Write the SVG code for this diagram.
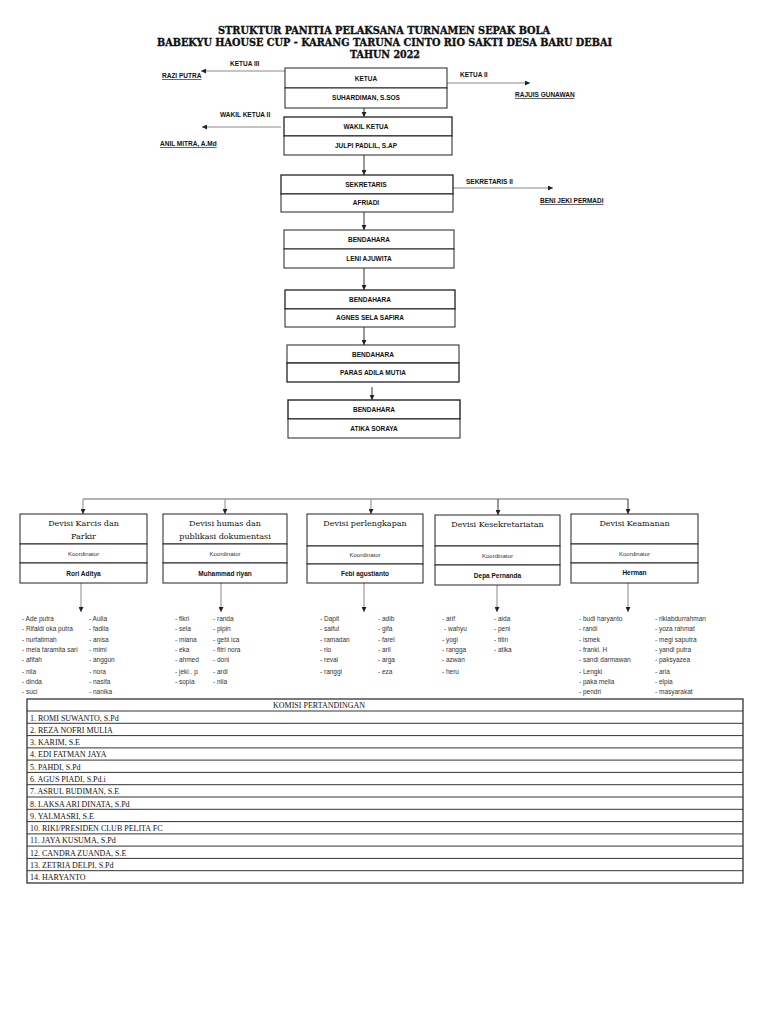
<svg xmlns="http://www.w3.org/2000/svg" width="768" height="1024" viewBox="0 0 768 1024">
<style>
.bg{fill:#fff}
.box{fill:#fff;stroke:#222;stroke-width:1}
.title{font-family:"DejaVu Serif","Liberation Serif",serif;font-weight:900;font-size:10.5px;text-anchor:middle;fill:#111;stroke:#111;stroke-width:0.35}
.t{font-family:"Liberation Sans",Arial,sans-serif;font-weight:bold;font-size:6.5px;text-anchor:middle;fill:#111}
.s{font-family:"Liberation Sans",Arial,sans-serif;font-weight:bold;font-size:6.5px;fill:#111}
.u{text-decoration:underline}
.dv{font-family:"DejaVu Serif","Liberation Serif",serif;font-size:8px;text-anchor:middle;fill:#111}
.k{font-family:"Liberation Sans",Arial,sans-serif;font-size:6px;text-anchor:middle;fill:#333}
.n{font-family:"Liberation Sans",Arial,sans-serif;font-size:6.5px;fill:#333}
.tb{font-family:"Liberation Serif","Times New Roman",serif;font-size:8px;fill:#111}
.ln{fill:none;stroke:#333;stroke-width:1}
.gl{fill:none;stroke:#888;stroke-width:1}
.bus{fill:none;stroke:#999;stroke-width:1.5}
</style>
<defs>
<marker id="ar" viewBox="0 0 6 6" refX="6" refY="3" markerWidth="5" markerHeight="5" markerUnits="userSpaceOnUse" orient="auto">
<path d="M0,0 L6,3 L0,6 z" fill="#222"/>
</marker>
</defs>
<rect class="bg" x="0" y="0" width="768" height="1024"/>

<g id="title">
<text class="title" x="384" y="34" textLength="332" lengthAdjust="spacingAndGlyphs">STRUKTUR PANITIA PELAKSANA TURNAMEN SEPAK BOLA</text>
<text class="title" x="384.5" y="46" textLength="455" lengthAdjust="spacingAndGlyphs">BABEKYU HAOUSE CUP - KARANG TARUNA CINTO RIO SAKTI DESA BARU DEBAI</text>
<text class="title" x="385" y="58" textLength="70" lengthAdjust="spacingAndGlyphs">TAHUN 2022</text>
</g>

<g id="connectors">
<path class="ln" d="M364,108 V117" marker-end="url(#ar)"/>
<path class="ln" d="M364,155 V175" marker-end="url(#ar)"/>
<path class="ln" d="M364,212 V230" marker-end="url(#ar)"/>
<path class="ln" d="M364,268 V290" marker-end="url(#ar)"/>
<path class="ln" d="M364,327 V345" marker-end="url(#ar)"/>
<path class="ln" d="M372,387 V400" marker-end="url(#ar)"/>
<path class="gl" d="M285,71 H201" marker-end="url(#ar)"/>
<path class="gl" d="M447,83 H530" marker-end="url(#ar)"/>
<path class="gl" d="M281,127 H202" marker-end="url(#ar)"/>
<path class="gl" d="M453,188 H553" marker-end="url(#ar)"/>
<path class="bus" d="M83,499 H628"/>
<path class="gl" d="M83,499 V514" marker-end="url(#ar)"/>
<path class="gl" d="M225,499 V514" marker-end="url(#ar)"/>
<path class="gl" d="M371,499 V514" marker-end="url(#ar)"/>
<path class="ln" d="M498,499 V515" marker-end="url(#ar)"/>
<path class="ln" d="M628,499 V514" marker-end="url(#ar)"/>
<path class="gl" d="M81,583 V612" marker-end="url(#ar)"/>
<path class="gl" d="M221,583 V612" marker-end="url(#ar)"/>
<path class="gl" d="M364,583 V612" marker-end="url(#ar)"/>
<path class="gl" d="M497,585 V612" marker-end="url(#ar)"/>
<path class="gl" d="M628,583 V612" marker-end="url(#ar)"/>
</g>

<g id="labels">
<text class="s" x="230" y="66">KETUA III</text>
<text class="s u" x="162" y="78">RAZI PUTRA</text>
<text class="s" x="460" y="77">KETUA II</text>
<text class="s u" x="515" y="97">RAJUIS GUNAWAN</text>
<text class="s" x="220" y="117">WAKIL KETUA II</text>
<text class="s u" x="160" y="146">ANIL MITRA, A.Md</text>
<text class="s" x="466" y="184">SEKRETARIS II</text>
<text class="s u" x="540" y="203">BENI JEKI PERMADI</text>
</g>

<g id="ketua">
<rect class="box" x="285" y="68" width="162" height="20"/>
<rect class="box" x="285" y="88" width="162" height="20"/>
<text class="t" x="366" y="81">KETUA</text>
<text class="t" x="366" y="100">SUHARDIMAN, S.SOS</text>
</g>
<g id="wakil">
<rect class="box" x="284" y="117" width="168" height="19" style="stroke-width:1.3"/>
<rect class="box" x="284" y="136" width="168" height="19"/>
<text class="t" x="366" y="129">WAKIL KETUA</text>
<text class="t" x="366" y="148">JULPI PADLIL, S.AP</text>
</g>
<g id="sekretaris">
<rect class="box" x="281" y="175" width="172" height="19" style="stroke-width:1.3"/>
<rect class="box" x="281" y="194" width="172" height="18"/>
<text class="t" x="366" y="187">SEKRETARIS</text>
<text class="t" x="366" y="205">AFRIADI</text>
</g>
<g id="bendahara1">
<rect class="box" x="284" y="230" width="170" height="19"/>
<rect class="box" x="284" y="249" width="170" height="19"/>
<text class="t" x="369" y="242">BENDAHARA</text>
<text class="t" x="369" y="261">LENI AJUWITA</text>
</g>
<g id="bendahara2">
<rect class="box" x="285" y="290" width="170" height="19" style="stroke-width:1.3"/>
<rect class="box" x="285" y="309" width="170" height="18"/>
<text class="t" x="370" y="302">BENDAHARA</text>
<text class="t" x="370" y="320">AGNES SELA SAFIRA</text>
</g>
<g id="bendahara3">
<rect class="box" x="287" y="345" width="172" height="18"/>
<rect class="box" x="287" y="363" width="172" height="19" style="stroke-width:1.3"/>
<text class="t" x="373" y="357">BENDAHARA</text>
<text class="t" x="373" y="375">PARAS ADILA MUTIA</text>
</g>
<g id="bendahara4">
<rect class="box" x="288" y="400" width="172" height="19" style="stroke-width:1.4"/>
<rect class="box" x="288" y="419" width="172" height="19"/>
<text class="t" x="374" y="412">BENDAHARA</text>
<text class="t" x="374" y="431">ATIKA SORAYA</text>
</g>

<g id="div-karcis">
<rect class="box" x="20" y="514" width="127" height="30"/>
<rect class="box" x="20" y="544" width="127" height="19"/>
<rect class="box" x="20" y="563" width="127" height="20"/>
<text class="dv" x="83.5" y="526">Devisi Karcis dan</text>
<text class="dv" x="83.5" y="539">Parkir</text>
<text class="k" x="83.5" y="556">Koordinator</text>
<text class="t" x="83.5" y="576">Rori Aditya</text>
</g>
<g id="div-humas">
<rect class="box" x="163" y="514" width="124" height="30"/>
<rect class="box" x="163" y="544" width="124" height="19"/>
<rect class="box" x="163" y="563" width="124" height="20"/>
<text class="dv" x="225" y="526">Devisi humas dan</text>
<text class="dv" x="225" y="539">publikasi dokumentasi</text>
<text class="k" x="225" y="556">Koordinator</text>
<text class="t" x="225" y="576">Muhammad riyan</text>
</g>
<g id="div-perlengkapan">
<rect class="box" x="307" y="514" width="116" height="32"/>
<rect class="box" x="307" y="546" width="116" height="18"/>
<rect class="box" x="307" y="564" width="116" height="19"/>
<text class="dv" x="365" y="526">Devisi perlengkapan</text>
<text class="k" x="365" y="557">Koordinator</text>
<text class="t" x="365" y="576">Febi agustianto</text>
</g>
<g id="div-kesekretariatan">
<rect class="box" x="435" y="515" width="125" height="31"/>
<rect class="box" x="435" y="546" width="125" height="19"/>
<rect class="box" x="435" y="565" width="125" height="20"/>
<text class="dv" x="497.5" y="527">Devisi Kesekretariatan</text>
<text class="k" x="497.5" y="558">Koordinator</text>
<text class="t" x="497.5" y="578">Depa Pernanda</text>
</g>
<g id="div-keamanan">
<rect class="box" x="571" y="514" width="127" height="30"/>
<rect class="box" x="571" y="544" width="127" height="19"/>
<rect class="box" x="571" y="563" width="127" height="20"/>
<text class="dv" x="634.5" y="526">Devisi Keamanan</text>
<text class="k" x="634.5" y="556">Koordinator</text>
<text class="t" x="634.5" y="575">Herman</text>
</g>

<g id="members-karcis" class="n">
<text x="22" y="621">- Ade putra</text>
<text x="22" y="631">- Rifaldi oka putra</text>
<text x="22" y="642">- nurfatimah</text>
<text x="22" y="652">- mela faramita sari</text>
<text x="22" y="662">- afifah</text>
<text x="22" y="674">- nila</text>
<text x="22" y="684">- dinda</text>
<text x="22" y="694">- suci</text>
<text x="89" y="621">- Aulia</text>
<text x="89" y="631">- fadila</text>
<text x="89" y="642">- anisa</text>
<text x="89" y="652">- mimi</text>
<text x="89" y="662">- anggun</text>
<text x="89" y="674">- nora</text>
<text x="89" y="684">- nasifa</text>
<text x="89" y="694">- nanika</text>
</g>
<g id="members-humas" class="n">
<text x="175" y="621">- fikri</text>
<text x="175" y="631">- sela</text>
<text x="175" y="642">- miana</text>
<text x="175" y="652">- eka</text>
<text x="175" y="662">- ahmed</text>
<text x="175" y="674">- jeki . p</text>
<text x="175" y="684">- sopia</text>
<text x="213" y="621">- randa</text>
<text x="213" y="631">- pipin</text>
<text x="213" y="642">- gebi ica</text>
<text x="213" y="652">- fitri nora</text>
<text x="213" y="662">- doni</text>
<text x="213" y="674">- ardi</text>
<text x="213" y="684">- nila</text>
</g>
<g id="members-perlengkapan" class="n">
<text x="320" y="621">- Dapit</text>
<text x="320" y="631">- saiful</text>
<text x="320" y="642">- ramadan</text>
<text x="320" y="652">- rio</text>
<text x="320" y="662">- reval</text>
<text x="320" y="674">- ranggi</text>
<text x="378" y="621">- adib</text>
<text x="378" y="631">- gifa</text>
<text x="378" y="642">- farel</text>
<text x="378" y="652">- aril</text>
<text x="378" y="662">- arga</text>
<text x="378" y="674">- eza</text>
</g>
<g id="members-kesekretariatan" class="n">
<text x="442" y="621">- arif</text>
<text x="444" y="631">- wahyu</text>
<text x="442" y="642">- yogi</text>
<text x="442" y="652">- rangga</text>
<text x="442" y="662">- azwan</text>
<text x="442" y="674">- heru</text>
<text x="494" y="621">- aida</text>
<text x="494" y="631">- peni</text>
<text x="494" y="642">- titin</text>
<text x="494" y="652">- atika</text>
</g>
<g id="members-keamanan" class="n">
<text x="579" y="621">- budi haryanto</text>
<text x="579" y="631">- randi</text>
<text x="579" y="642">- ismek</text>
<text x="579" y="652">- franki. H</text>
<text x="579" y="662">- sandi darmawan</text>
<text x="579" y="674">- Lengki</text>
<text x="579" y="684">- paka melia</text>
<text x="579" y="694">- pendri</text>
<text x="655" y="621">- rikiabdurrahman</text>
<text x="655" y="631">- yoza rahmat</text>
<text x="655" y="642">- megi saputra</text>
<text x="655" y="652">- yandi putra</text>
<text x="655" y="662">- paksyazea</text>
<text x="655" y="674">- aria</text>
<text x="655" y="684">- elpia</text>
<text x="655" y="694">- masyarakat</text>
</g>

<g id="komisi-pertandingan">
<rect x="27" y="699" width="716" height="184" fill="#fff" stroke="#222" stroke-width="1.2"/>
<path class="ln" d="M27,711 H743 M27,723.3 H743 M27,735.6 H743 M27,747.9 H743 M27,760.1 H743 M27,772.4 H743 M27,784.7 H743 M27,797 H743 M27,809.3 H743 M27,821.6 H743 M27,833.9 H743 M27,846.1 H743 M27,858.4 H743 M27,870.7 H743"/>
<text class="tb" x="319" y="708" text-anchor="middle">KOMISI PERTANDINGAN</text>
<text class="tb" x="30" y="720.5">1. ROMI SUWANTO, S.Pd</text>
<text class="tb" x="30" y="732.8">2. REZA NOFRI MULIA</text>
<text class="tb" x="30" y="745.1">3. KARIM, S.E</text>
<text class="tb" x="30" y="757.4">4. EDI FATMAN JAYA</text>
<text class="tb" x="30" y="769.6">5. PAHDI, S.Pd</text>
<text class="tb" x="30" y="781.9">6. AGUS PIADI, S.Pd.i</text>
<text class="tb" x="30" y="794.2">7. ASRUL BUDIMAN, S.E</text>
<text class="tb" x="30" y="806.5">8. LAKSA ARI DINATA, S.Pd</text>
<text class="tb" x="30" y="818.8">9. YALMASRI, S.E</text>
<text class="tb" x="30" y="831.1">10. RIKI/PRESIDEN CLUB PELITA FC</text>
<text class="tb" x="30" y="843.4">11. JAYA KUSUMA, S.Pd</text>
<text class="tb" x="30" y="855.6">12. CANDRA ZUANDA, S.E</text>
<text class="tb" x="30" y="867.9">13. ZETRIA DELPI, S.Pd</text>
<text class="tb" x="30" y="880.2">14. HARYANTO</text>
</g>
</svg>
